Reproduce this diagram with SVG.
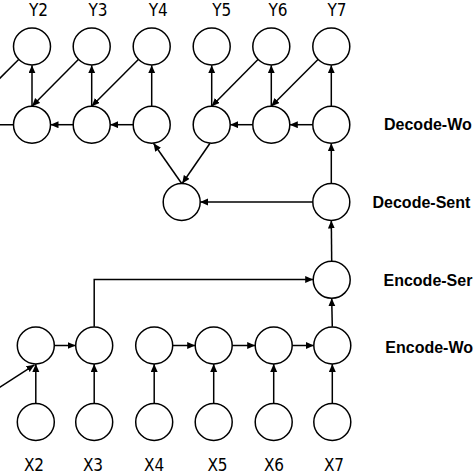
<svg xmlns="http://www.w3.org/2000/svg" width="474" height="474" viewBox="0 0 474 474">
<style>
.n{fill:#fff;stroke:#000;stroke-width:1.5}
.e{fill:none;stroke:#000;stroke-width:1.5}
.a{marker-end:url(#ah)}
.lb{font-family:"DejaVu Sans Condensed","DejaVu Sans",sans-serif;font-stretch:condensed;font-size:17px;fill:#000;text-anchor:middle}
.rl{font-family:"Liberation Sans",Arial,sans-serif;font-weight:bold;font-size:16px;fill:#000}
</style>
<defs>
<marker id="ah" markerUnits="userSpaceOnUse" markerWidth="9" markerHeight="8" refX="8" refY="3.5" orient="auto">
<path d="M0,0 L8,3.5 L0,7 z" fill="#000"/>
</marker>
</defs>
<rect width="474" height="474" fill="#fff"/>
<g id="connectors">
<line class="e a" x1="32" y1="106.2" x2="32" y2="65.2"/>
<line class="e a" x1="91.7" y1="106.2" x2="91.7" y2="65.2"/>
<line class="e a" x1="151.7" y1="106.2" x2="151.7" y2="65.2"/>
<line class="e a" x1="211.7" y1="106.2" x2="211.7" y2="65.2"/>
<line class="e a" x1="271.3" y1="106.2" x2="271.3" y2="65.2"/>
<line class="e a" x1="331.3" y1="106.2" x2="331.3" y2="65.2"/>
<line class="e" x1="18.9" y1="59.3" x2="-30" y2="108"/>
<line class="e a" x1="78.6" y1="59.3" x2="32" y2="106.2"/>
<line class="e a" x1="138.6" y1="59.3" x2="91.7" y2="106.2"/>
<line class="e a" x1="258.2" y1="59.3" x2="211.7" y2="106.2"/>
<line class="e a" x1="318.2" y1="59.3" x2="271.3" y2="106.2"/>
<line class="e" x1="13.5" y1="124.7" x2="-20" y2="124.7"/>
<line class="e a" x1="73.2" y1="124.7" x2="50.5" y2="124.7"/>
<line class="e a" x1="133.2" y1="124.7" x2="110.2" y2="124.7"/>
<line class="e a" x1="252.8" y1="124.7" x2="230.2" y2="124.7"/>
<line class="e a" x1="312.8" y1="124.7" x2="289.8" y2="124.7"/>
<line class="e a" x1="181.7" y1="183.5" x2="153.5" y2="143.2"/>
<line class="e a" x1="210" y1="143.2" x2="182.2" y2="183.5"/>
<line class="e a" x1="312.8" y1="202" x2="200.2" y2="202"/>
<line class="e a" x1="331.3" y1="183.5" x2="331.3" y2="143.2"/>
<line class="e a" x1="331.7" y1="261.3" x2="331.3" y2="220.5"/>
<polyline class="e a" points="94.2,326.8 94.2,279.5 313.2,279.5"/>
<line class="e a" x1="332.3" y1="326.8" x2="331.7" y2="298.3"/>
<line class="e a" x1="-10" y1="393.7" x2="34.5" y2="364.8"/>
<line class="e a" x1="54.3" y1="345.5" x2="75.7" y2="345.5"/>
<line class="e a" x1="172.7" y1="345.5" x2="195.2" y2="345.5"/>
<line class="e a" x1="232.2" y1="345.5" x2="255.2" y2="345.5"/>
<line class="e a" x1="292.2" y1="345.5" x2="313.8" y2="345.5"/>
<line class="e a" x1="35.8" y1="403.5" x2="35.8" y2="364"/>
<line class="e a" x1="94.2" y1="403.5" x2="94.2" y2="364"/>
<line class="e a" x1="154.2" y1="403.5" x2="154.2" y2="364"/>
<line class="e a" x1="213.7" y1="403.5" x2="213.7" y2="364"/>
<line class="e a" x1="273.7" y1="403.5" x2="273.7" y2="364"/>
<line class="e a" x1="332.3" y1="403.5" x2="332.3" y2="364"/>
</g>
<g id="y2"><circle class="n" cx="32" cy="46.5" r="18.5"/><text class="lb" x="38.5" y="15.5">Y2</text></g>
<g id="y3"><circle class="n" cx="91.7" cy="46.5" r="18.5"/><text class="lb" x="98" y="15.5">Y3</text></g>
<g id="y4"><circle class="n" cx="151.7" cy="46.5" r="18.5"/><text class="lb" x="158.3" y="15.5">Y4</text></g>
<g id="y5"><circle class="n" cx="211.7" cy="46.5" r="18.5"/><text class="lb" x="221.7" y="15.5">Y5</text></g>
<g id="y6"><circle class="n" cx="271.3" cy="46.5" r="18.5"/><text class="lb" x="278" y="15.5">Y6</text></g>
<g id="y7"><circle class="n" cx="331.3" cy="46.5" r="18.5"/><text class="lb" x="337" y="15.5">Y7</text></g>
<g id="dw2"><circle class="n" cx="32" cy="124.7" r="18.5"/></g>
<g id="dw3"><circle class="n" cx="91.7" cy="124.7" r="18.5"/></g>
<g id="dw4"><circle class="n" cx="151.7" cy="124.7" r="18.5"/></g>
<g id="dw5"><circle class="n" cx="211.7" cy="124.7" r="18.5"/></g>
<g id="dw6"><circle class="n" cx="271.3" cy="124.7" r="18.5"/></g>
<g id="dw7"><circle class="n" cx="331.3" cy="124.7" r="18.5"/></g>
<g id="ds1"><circle class="n" cx="181.7" cy="202" r="18.5"/></g>
<g id="ds2"><circle class="n" cx="331.3" cy="202" r="18.5"/></g>
<g id="es"><circle class="n" cx="331.7" cy="279.8" r="18.5"/></g>
<g id="ew2"><circle class="n" cx="35.8" cy="345.5" r="18.5"/></g>
<g id="ew3"><circle class="n" cx="94.2" cy="345.5" r="18.5"/></g>
<g id="ew4"><circle class="n" cx="154.2" cy="345.5" r="18.5"/></g>
<g id="ew5"><circle class="n" cx="213.7" cy="345.5" r="18.5"/></g>
<g id="ew6"><circle class="n" cx="273.7" cy="345.5" r="18.5"/></g>
<g id="ew7"><circle class="n" cx="332.3" cy="345.5" r="18.5"/></g>
<g id="x2"><circle class="n" cx="35.8" cy="422" r="18.5"/><text class="lb" x="34" y="471">X2</text></g>
<g id="x3"><circle class="n" cx="94.2" cy="422" r="18.5"/><text class="lb" x="93" y="471">X3</text></g>
<g id="x4"><circle class="n" cx="154.2" cy="422" r="18.5"/><text class="lb" x="154.2" y="471">X4</text></g>
<g id="x5"><circle class="n" cx="213.7" cy="422" r="18.5"/><text class="lb" x="217.5" y="471">X5</text></g>
<g id="x6"><circle class="n" cx="273.7" cy="422" r="18.5"/><text class="lb" x="274" y="471">X6</text></g>
<g id="x7"><circle class="n" cx="332.3" cy="422" r="18.5"/><text class="lb" x="334" y="471">X7</text></g>
<g id="labels">
<text class="rl" x="384" y="129.5">Decode-Wo</text>
<text class="rl" x="372.5" y="208">Decode-Sent</text>
<text class="rl" x="383.5" y="286">Encode-Ser</text>
<text class="rl" x="385.3" y="352.7">Encode-Wo</text>
</g>
</svg>
